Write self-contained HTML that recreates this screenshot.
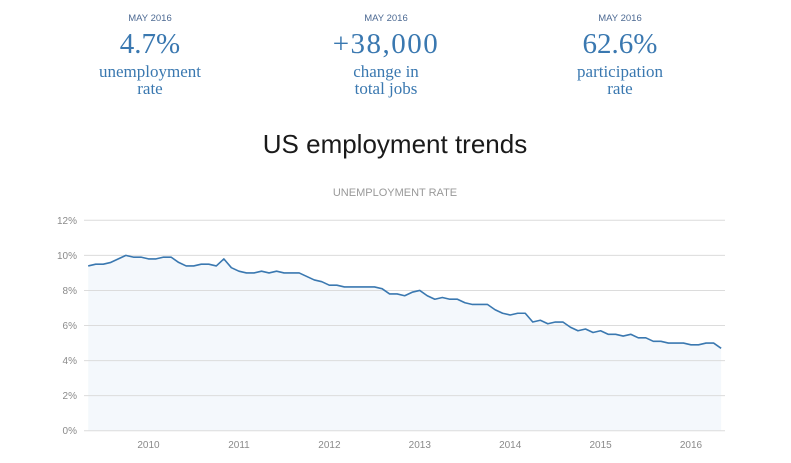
<!DOCTYPE html>
<html>
<head>
<meta charset="utf-8">
<style>
  html,body{margin:0;padding:0;background:#fff;}
  svg{display:block;}
  .small{font-family:"Liberation Sans",Arial,sans-serif;font-size:9.5px;fill:#4d6a93;}
  .big{font-family:"Liberation Serif","Times New Roman",serif;font-size:29px;fill:#3a78b0;}
  .lab{font-family:"Liberation Serif","Times New Roman",serif;font-size:17px;fill:#3a78b0;}
  .tick{font-family:"Liberation Sans",Arial,sans-serif;font-size:10px;fill:#8a8a8a;}
</style>
</head>
<body>
<svg width="791" height="463" viewBox="0 0 791 463" xmlns="http://www.w3.org/2000/svg">
  <!-- Top stats -->
  <g text-anchor="middle">
    <text class="small" x="150" y="21">MAY 2016</text>
    <text class="big" x="150" y="53">4.7%</text>
    <text class="lab" x="150" y="77">unemployment</text>
    <text class="lab" x="150" y="94">rate</text>

    <text class="small" x="386" y="21">MAY 2016</text>
    <text class="big" x="386" y="53" letter-spacing="1.5">+38,000</text>
    <text class="lab" x="386" y="77">change in</text>
    <text class="lab" x="386" y="94">total jobs</text>

    <text class="small" x="620" y="21">MAY 2016</text>
    <text class="big" x="620" y="53">62.6%</text>
    <text class="lab" x="620" y="77">participation</text>
    <text class="lab" x="620" y="94">rate</text>
  </g>

  <!-- Title -->
  <text x="395" y="153" text-anchor="middle" font-family="'Liberation Sans',Arial,sans-serif" font-size="26" fill="#1a1a1a">US employment trends</text>
  <text x="395" y="196" text-anchor="middle" font-family="'Liberation Sans',Arial,sans-serif" font-size="11" fill="#999">UNEMPLOYMENT RATE</text>

  <!-- Area -->
  <g transform="translate(88.2,430.7) scale(7.535,-17.53)">
    <polygon fill="#f4f8fc" points="0,0 0,9.4 1,9.5 2,9.5 3,9.6 4,9.8 5,10.0 6,9.9 7,9.9 8,9.8 9,9.8 10,9.9 11,9.9 12,9.6 13,9.4 14,9.4 15,9.5 16,9.5 17,9.4 18,9.8 19,9.3 20,9.1 21,9.0 22,9.0 23,9.1 24,9.0 25,9.1 26,9.0 27,9.0 28,9.0 29,8.8 30,8.6 31,8.5 32,8.3 33,8.3 34,8.2 35,8.2 36,8.2 37,8.2 38,8.2 39,8.1 40,7.8 41,7.8 42,7.7 43,7.9 44,8.0 45,7.7 46,7.5 47,7.6 48,7.5 49,7.5 50,7.3 51,7.2 52,7.2 53,7.2 54,6.9 55,6.7 56,6.6 57,6.7 58,6.7 59,6.2 60,6.3 61,6.1 62,6.2 63,6.2 64,5.9 65,5.7 66,5.8 67,5.6 68,5.7 69,5.5 70,5.5 71,5.4 72,5.5 73,5.3 74,5.3 75,5.1 76,5.1 77,5.0 78,5.0 79,5.0 80,4.9 81,4.9 82,5.0 83,5.0 84,4.7 84,0"/>
  </g>

  <!-- Gridlines -->
  <g stroke="#dcdcdc" stroke-width="1">
    <line x1="84" x2="725" y1="220.3" y2="220.3"/>
    <line x1="84" x2="725" y1="255.4" y2="255.4"/>
    <line x1="84" x2="725" y1="290.5" y2="290.5"/>
    <line x1="84" x2="725" y1="325.5" y2="325.5"/>
    <line x1="84" x2="725" y1="360.6" y2="360.6"/>
    <line x1="84" x2="725" y1="395.6" y2="395.6"/>
    <line x1="84" x2="725" y1="430.7" y2="430.7"/>
  </g>

  <!-- Line -->
  <g transform="translate(88.2,430.7) scale(7.535,-17.53)">
    <polyline fill="none" stroke="#3a78b0" stroke-width="1.6" vector-effect="non-scaling-stroke" stroke-linejoin="round" points="0,9.4 1,9.5 2,9.5 3,9.6 4,9.8 5,10.0 6,9.9 7,9.9 8,9.8 9,9.8 10,9.9 11,9.9 12,9.6 13,9.4 14,9.4 15,9.5 16,9.5 17,9.4 18,9.8 19,9.3 20,9.1 21,9.0 22,9.0 23,9.1 24,9.0 25,9.1 26,9.0 27,9.0 28,9.0 29,8.8 30,8.6 31,8.5 32,8.3 33,8.3 34,8.2 35,8.2 36,8.2 37,8.2 38,8.2 39,8.1 40,7.8 41,7.8 42,7.7 43,7.9 44,8.0 45,7.7 46,7.5 47,7.6 48,7.5 49,7.5 50,7.3 51,7.2 52,7.2 53,7.2 54,6.9 55,6.7 56,6.6 57,6.7 58,6.7 59,6.2 60,6.3 61,6.1 62,6.2 63,6.2 64,5.9 65,5.7 66,5.8 67,5.6 68,5.7 69,5.5 70,5.5 71,5.4 72,5.5 73,5.3 74,5.3 75,5.1 76,5.1 77,5.0 78,5.0 79,5.0 80,4.9 81,4.9 82,5.0 83,5.0 84,4.7"/>
  </g>

  <!-- Y tick labels -->
  <g text-anchor="end">
    <text class="tick" x="77" y="223.8">12%</text>
    <text class="tick" x="77" y="258.9">10%</text>
    <text class="tick" x="77" y="294">8%</text>
    <text class="tick" x="77" y="329">6%</text>
    <text class="tick" x="77" y="364.1">4%</text>
    <text class="tick" x="77" y="399.1">2%</text>
    <text class="tick" x="77" y="434.2">0%</text>
  </g>

  <!-- X tick labels -->
  <g text-anchor="middle">
    <text class="tick" x="148.5" y="448">2010</text>
    <text class="tick" x="239" y="448">2011</text>
    <text class="tick" x="329.4" y="448">2012</text>
    <text class="tick" x="419.8" y="448">2013</text>
    <text class="tick" x="510.2" y="448">2014</text>
    <text class="tick" x="600.6" y="448">2015</text>
    <text class="tick" x="691" y="448">2016</text>
  </g>
</svg>
</body>
</html>
